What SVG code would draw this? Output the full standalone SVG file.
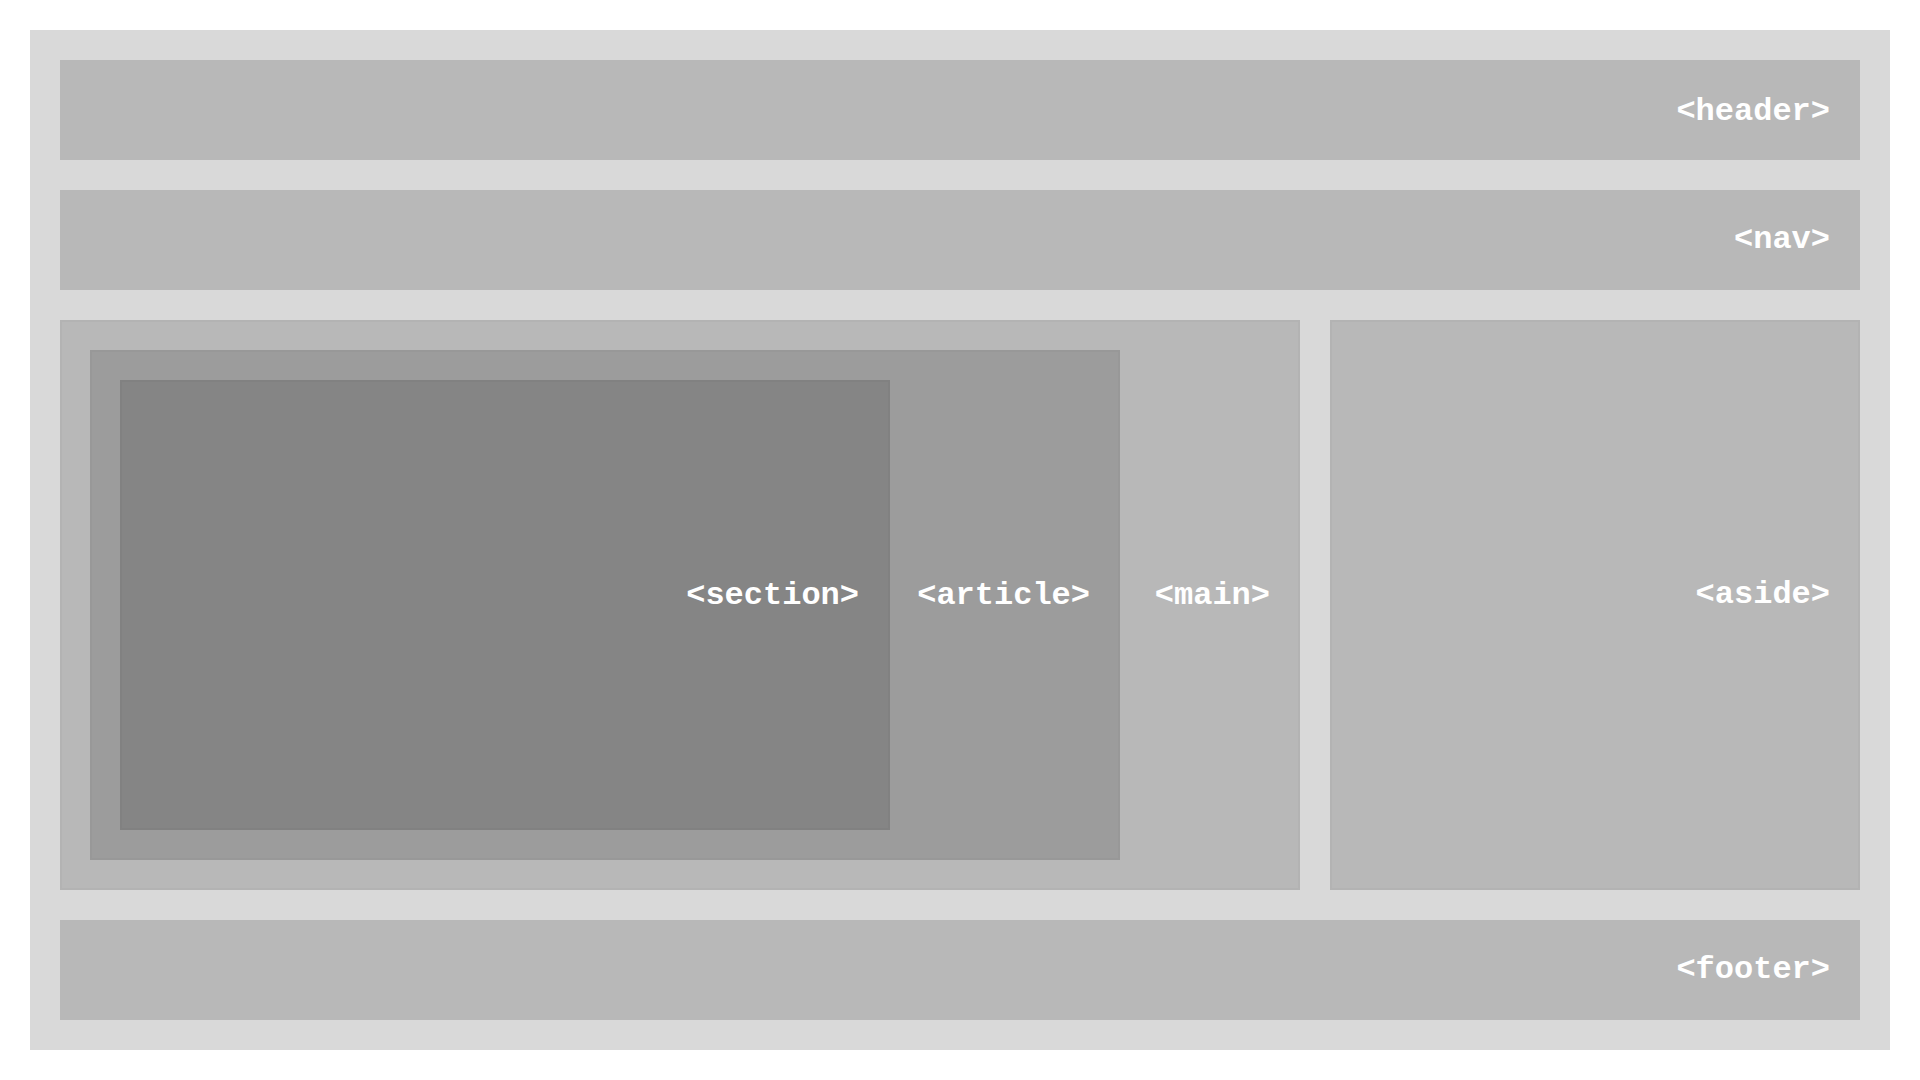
<svg xmlns="http://www.w3.org/2000/svg" width="1920" height="1080" viewBox="0 0 1920 1080">
<style>
.box{fill:#b8b8b8}
.bord{fill:#b8b8b8;stroke:#b3b3b3;stroke-width:2}
.art{fill:#9c9c9c;stroke:#989898;stroke-width:2}
.sec{fill:#858585;stroke:#818181;stroke-width:2}
.lbl{font-family:"Liberation Mono",monospace;font-weight:bold;font-size:32px;fill:#ffffff;text-anchor:end}
</style>
<rect x="0" y="0" width="1920" height="1080" fill="#ffffff"/>
<g id="page">
<rect x="30" y="30" width="1860" height="1020" fill="#d9d9d9"/>
</g>
<g id="header">
<rect class="box" x="60" y="60" width="1800" height="100"/>
<text class="lbl" x="1830" y="120">&lt;header&gt;</text>
</g>
<g id="nav">
<rect class="box" x="60" y="190" width="1800" height="100"/>
<text class="lbl" x="1830" y="248">&lt;nav&gt;</text>
</g>
<g id="main">
<rect class="bord" x="61" y="321" width="1238" height="568"/>
<text class="lbl" x="1270" y="604">&lt;main&gt;</text>
</g>
<g id="article">
<rect class="art" x="91" y="351" width="1028" height="508"/>
<text class="lbl" x="1090" y="604">&lt;article&gt;</text>
</g>
<g id="section">
<rect class="sec" x="121" y="381" width="768" height="448"/>
<text class="lbl" x="859" y="604">&lt;section&gt;</text>
</g>
<g id="aside">
<rect class="bord" x="1331" y="321" width="528" height="568"/>
<text class="lbl" x="1830" y="603">&lt;aside&gt;</text>
</g>
<g id="footer">
<rect class="box" x="60" y="920" width="1800" height="100"/>
<text class="lbl" x="1830" y="978">&lt;footer&gt;</text>
</g>
<g id="connectors"/>
</svg>
